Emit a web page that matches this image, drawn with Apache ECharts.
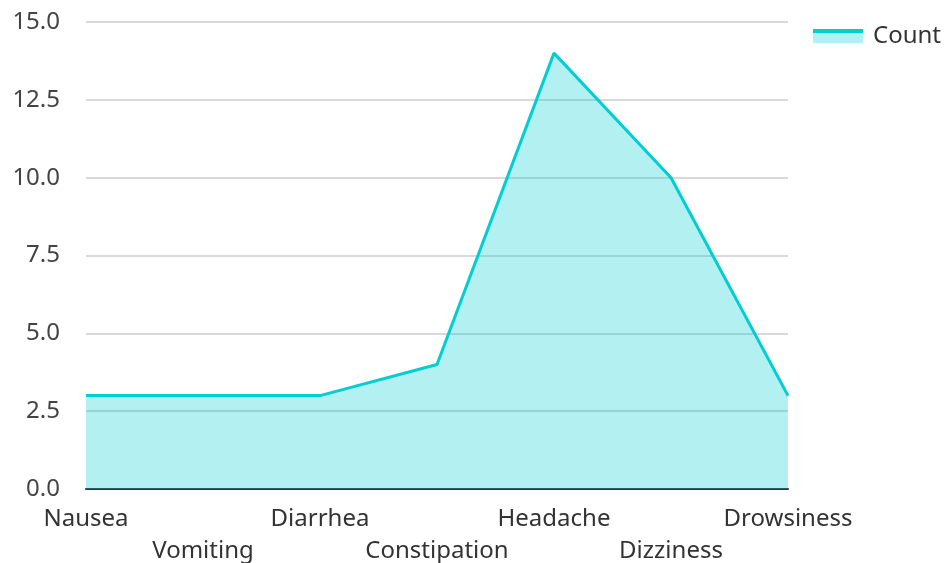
<!DOCTYPE html>
<html><head><meta charset="utf-8">
<script src="https://cdn.jsdelivr.net/npm/echarts@6/dist/echarts.min.js"></script>
<style>html,body{margin:0;padding:0;background:#fff}#c{width:944px;height:563px}</style>
</head><body><div id="c"></div>
<script>
const categories = ['Nausea','Vomiting','Diarrhea','Constipation','Headache','Dizziness','Drowsiness'];
const counts = [3,3,3,4,14,10,3];
const seriesName = 'Count';
const chart = echarts.init(document.getElementById('c'));
const font = '"Noto Sans", "Open Sans", sans-serif';
chart.setOption({
  animation:false,
  textStyle:{fontFamily:font},
  legend:{right:-2, top:19, itemWidth:50, itemHeight:14, itemGap:10, icon:'rect',
    itemStyle:{color:{type:'linear',x:0,y:0,x2:0,y2:1,colorStops:[
      {offset:0,color:'#00CED1'},{offset:0.25,color:'#00CED1'},
      {offset:0.25,color:'#b2f0f1'},{offset:1,color:'#b2f0f1'}]}},
    textStyle:{fontSize:24, color:'#333', fontFamily:font, padding:[0,0,9,5]}, data:[seriesName]},
  grid:{left:86, right:156, top:22, bottom:74, containLabel:false, outerBoundsMode:'none'},
  xAxis:{type:'category', data:categories, boundaryGap:false,
    axisLine:{lineStyle:{color:'#333', width:2}}, axisTick:{show:false},
    axisLabel:{interval:0, fontSize:24, color:'#333', fontFamily:font, margin:14, lineHeight:32,
      formatter:(v,i)=> i%2===1 ? '\n'+v : v}},
  yAxis:{type:'value', min:0, max:15, interval:2.5,
    axisLabel:{fontSize:24, color:'#444', fontFamily:font, margin:26, formatter:v=>v.toFixed(1)},
    splitLine:{lineStyle:{color:'#ccc', width:1.5}}, axisLine:{show:false}, axisTick:{show:false}},
  series:[{name:seriesName, type:'line', data:counts, symbol:'none',
    lineStyle:{color:'#00CED1', width:3}, itemStyle:{color:'#00CED1'},
    areaStyle:{color:'#00CED1', opacity:0.3}}]
});
</script></body></html>
